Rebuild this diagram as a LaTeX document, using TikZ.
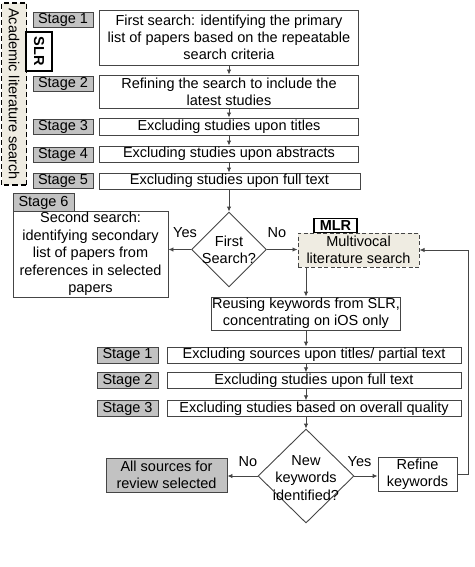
\documentclass[tikz,border=0pt]{standalone}
\usepackage{fontspec}
\setmainfont{Liberation Sans}
\usetikzlibrary{arrows.meta,shapes.geometric,calc}
\definecolor{ln}{HTML}{454545}
\definecolor{stg}{HTML}{C2C2C2}
\definecolor{beige}{HTML}{EFECE2}
\tikzset{
  box/.style={draw=ln, line width=0.9pt, fill=white, inner sep=1pt, align=center},
  stagebox/.style={draw=ln, line width=0.9pt, fill=stg, inner sep=0pt, minimum width=60, minimum height=15},
  arr/.style={draw=ln, line width=0.9pt, -{Latex[length=5pt,width=4.5pt]}},
  lbl/.style={inner sep=0pt},
}
\begin{document}
\begin{tikzpicture}[x=1pt,y=-1pt,font=\fontsize{14.5}{17.3}\selectfont]
\useasboundingbox (0,0) rectangle (474,567);
% SLR part
\node[draw=black, line width=1.8pt, dash pattern=on 5pt off 3pt, fill=beige, rotate=-90, minimum width=182, minimum height=25, inner sep=0pt] (acad) at (14,94) {Academic literature search};
\node[draw=black, line width=1.2pt, fill=white, rotate=-90, minimum width=39, minimum height=26, inner sep=0pt, font=\fontsize{14.5}{17}\selectfont\bfseries] (slr) at (39,51.5) {SLR};
\node[stagebox] (st1) at (63,19.5) {Stage 1};
\node[box, minimum width=259, minimum height=55] (b1) at (229,37.5) {First search: identifying the primary\\list of papers based on the repeatable\\search criteria};
\node[stagebox] (st2) at (63,83.5) {Stage 2};
\node[box, minimum width=259, minimum height=33] (b2) at (229,91.5) {Refining the search to include the\\latest studies};
\node[stagebox] (st3) at (63,127) {Stage 3};
\node[box, minimum width=259, minimum height=17] (b3) at (229,126.5) {Excluding studies upon titles};
\node[stagebox] (st4) at (63,154.5) {Stage 4};
\node[box, minimum width=259, minimum height=16] (b4) at (229,154) {Excluding studies upon abstracts};
\node[stagebox] (st5) at (63,180.5) {Stage 5};
\node[box, minimum width=261, minimum height=16] (b5) at (229.5,181) {Excluding studies upon full text};
\draw[arr] (b1.south -| 229,0) -- (b2.north -| 229,0);
\draw[arr] (b2.south -| 229,0) -- (b3.north -| 229,0);
\draw[arr] (b3.south -| 229,0) -- (b4.north -| 229,0);
\draw[arr] (b4.south -| 229,0) -- (b5.north -| 229,0);
% Stage 6 and first decision
\node[stagebox, minimum width=61, minimum height=19] (st6) at (43.5,202.5) {Stage 6};
\node[box, minimum width=155, minimum height=84, font=\fontsize{14.5}{17.6}\selectfont] (b6) at (90.5,254) {Second search:\\identifying secondary\\list of papers from\\references in selected\\papers};
\node[draw=ln, line width=0.9pt, fill=white, diamond, minimum width=75, minimum height=75, inner sep=0pt] (d1) at (229,249.5) {};
\node[lbl, align=center] (d1t) at (229,249.5) {First\\Search?};
\draw[arr] (b5.south -| d1.north) -- (d1.north);
\draw[arr] (d1.west) -- (d1.west -| b6.east);
\node[lbl] (yes1) at (185,233) {Yes};
\node[lbl] (no1) at (277,233) {No};
% MLR part
\node[draw=black, line width=1.2pt, fill=white, minimum width=43, minimum height=14, inner sep=0pt, font=\fontsize{14.5}{17}\selectfont\bfseries] (mlrl) at (335.5,225.5) {MLR};
\node[draw=ln, line width=1pt, dash pattern=on 4pt off 2.5pt, fill=beige, minimum width=121, minimum height=34, inner sep=0pt, align=center] (mlr) at (358.5,250) {Multivocal\\literature search};
\draw[arr] (d1.east) -- (d1.east -| mlr.west);
\node[box, minimum width=186, minimum height=33] (reuse) at (306,313.5) {Reusing keywords from SLR,\\concentrating on iOS only};
\draw[arr] (mlr.south -| reuse.north) -- (reuse.north);
\node[stagebox, minimum width=61, minimum height=16] (m1) at (127.5,355) {Stage 1};
\node[box, minimum width=294, minimum height=16] (mb1) at (314,355) {Excluding sources upon titles/ partial text};
\node[stagebox, minimum width=61, minimum height=16] (m2) at (127.5,380.5) {Stage 2};
\node[box, minimum width=294, minimum height=15] (mb2) at (314,380.5) {Excluding studies upon full text};
\node[stagebox, minimum width=61, minimum height=16] (m3) at (127.5,408.5) {Stage 3};
\node[box, minimum width=294, minimum height=15] (mb3) at (314,408.5) {Excluding studies based on overall quality};
\draw[arr] (reuse.south) -- (mb1.north -| reuse.south);
\draw[arr] (mb1.south -| reuse.south) -- (mb2.north -| reuse.south);
\draw[arr] (mb2.south -| reuse.south) -- (mb3.north -| reuse.south);
% second decision
\node[draw=ln, line width=0.9pt, fill=white, diamond, minimum width=96, minimum height=94, inner sep=0pt] (d2) at (306,476) {};
\node[lbl, align=center, font=\fontsize{14.5}{17.5}\selectfont] (d2t) at (306,478) {New\\keywords\\identified?};
\draw[arr] (mb3.south -| d2.north) -- (d2.north);
\node[draw=ln, line width=0.9pt, fill=stg, minimum width=121, minimum height=34, inner sep=0pt, align=center] (all) at (166.5,475) {All sources for\\review selected};
\node[box, minimum width=79, minimum height=34] (ref) at (417.5,474) {Refine\\keywords};
\draw[arr] (d2.west) -- (d2.west -| all.east);
\draw[arr] (d2.east) -- (d2.east -| ref.west);
\node[lbl] (no2) at (248,462) {No};
\node[lbl] (yes2) at (359.5,462) {Yes};
\coordinate (fb) at (468,0);
\draw[arr] (ref.east) -- (ref.east -| fb) -- (mlr.east -| fb) -- (mlr.east);
\end{tikzpicture}
\end{document}
